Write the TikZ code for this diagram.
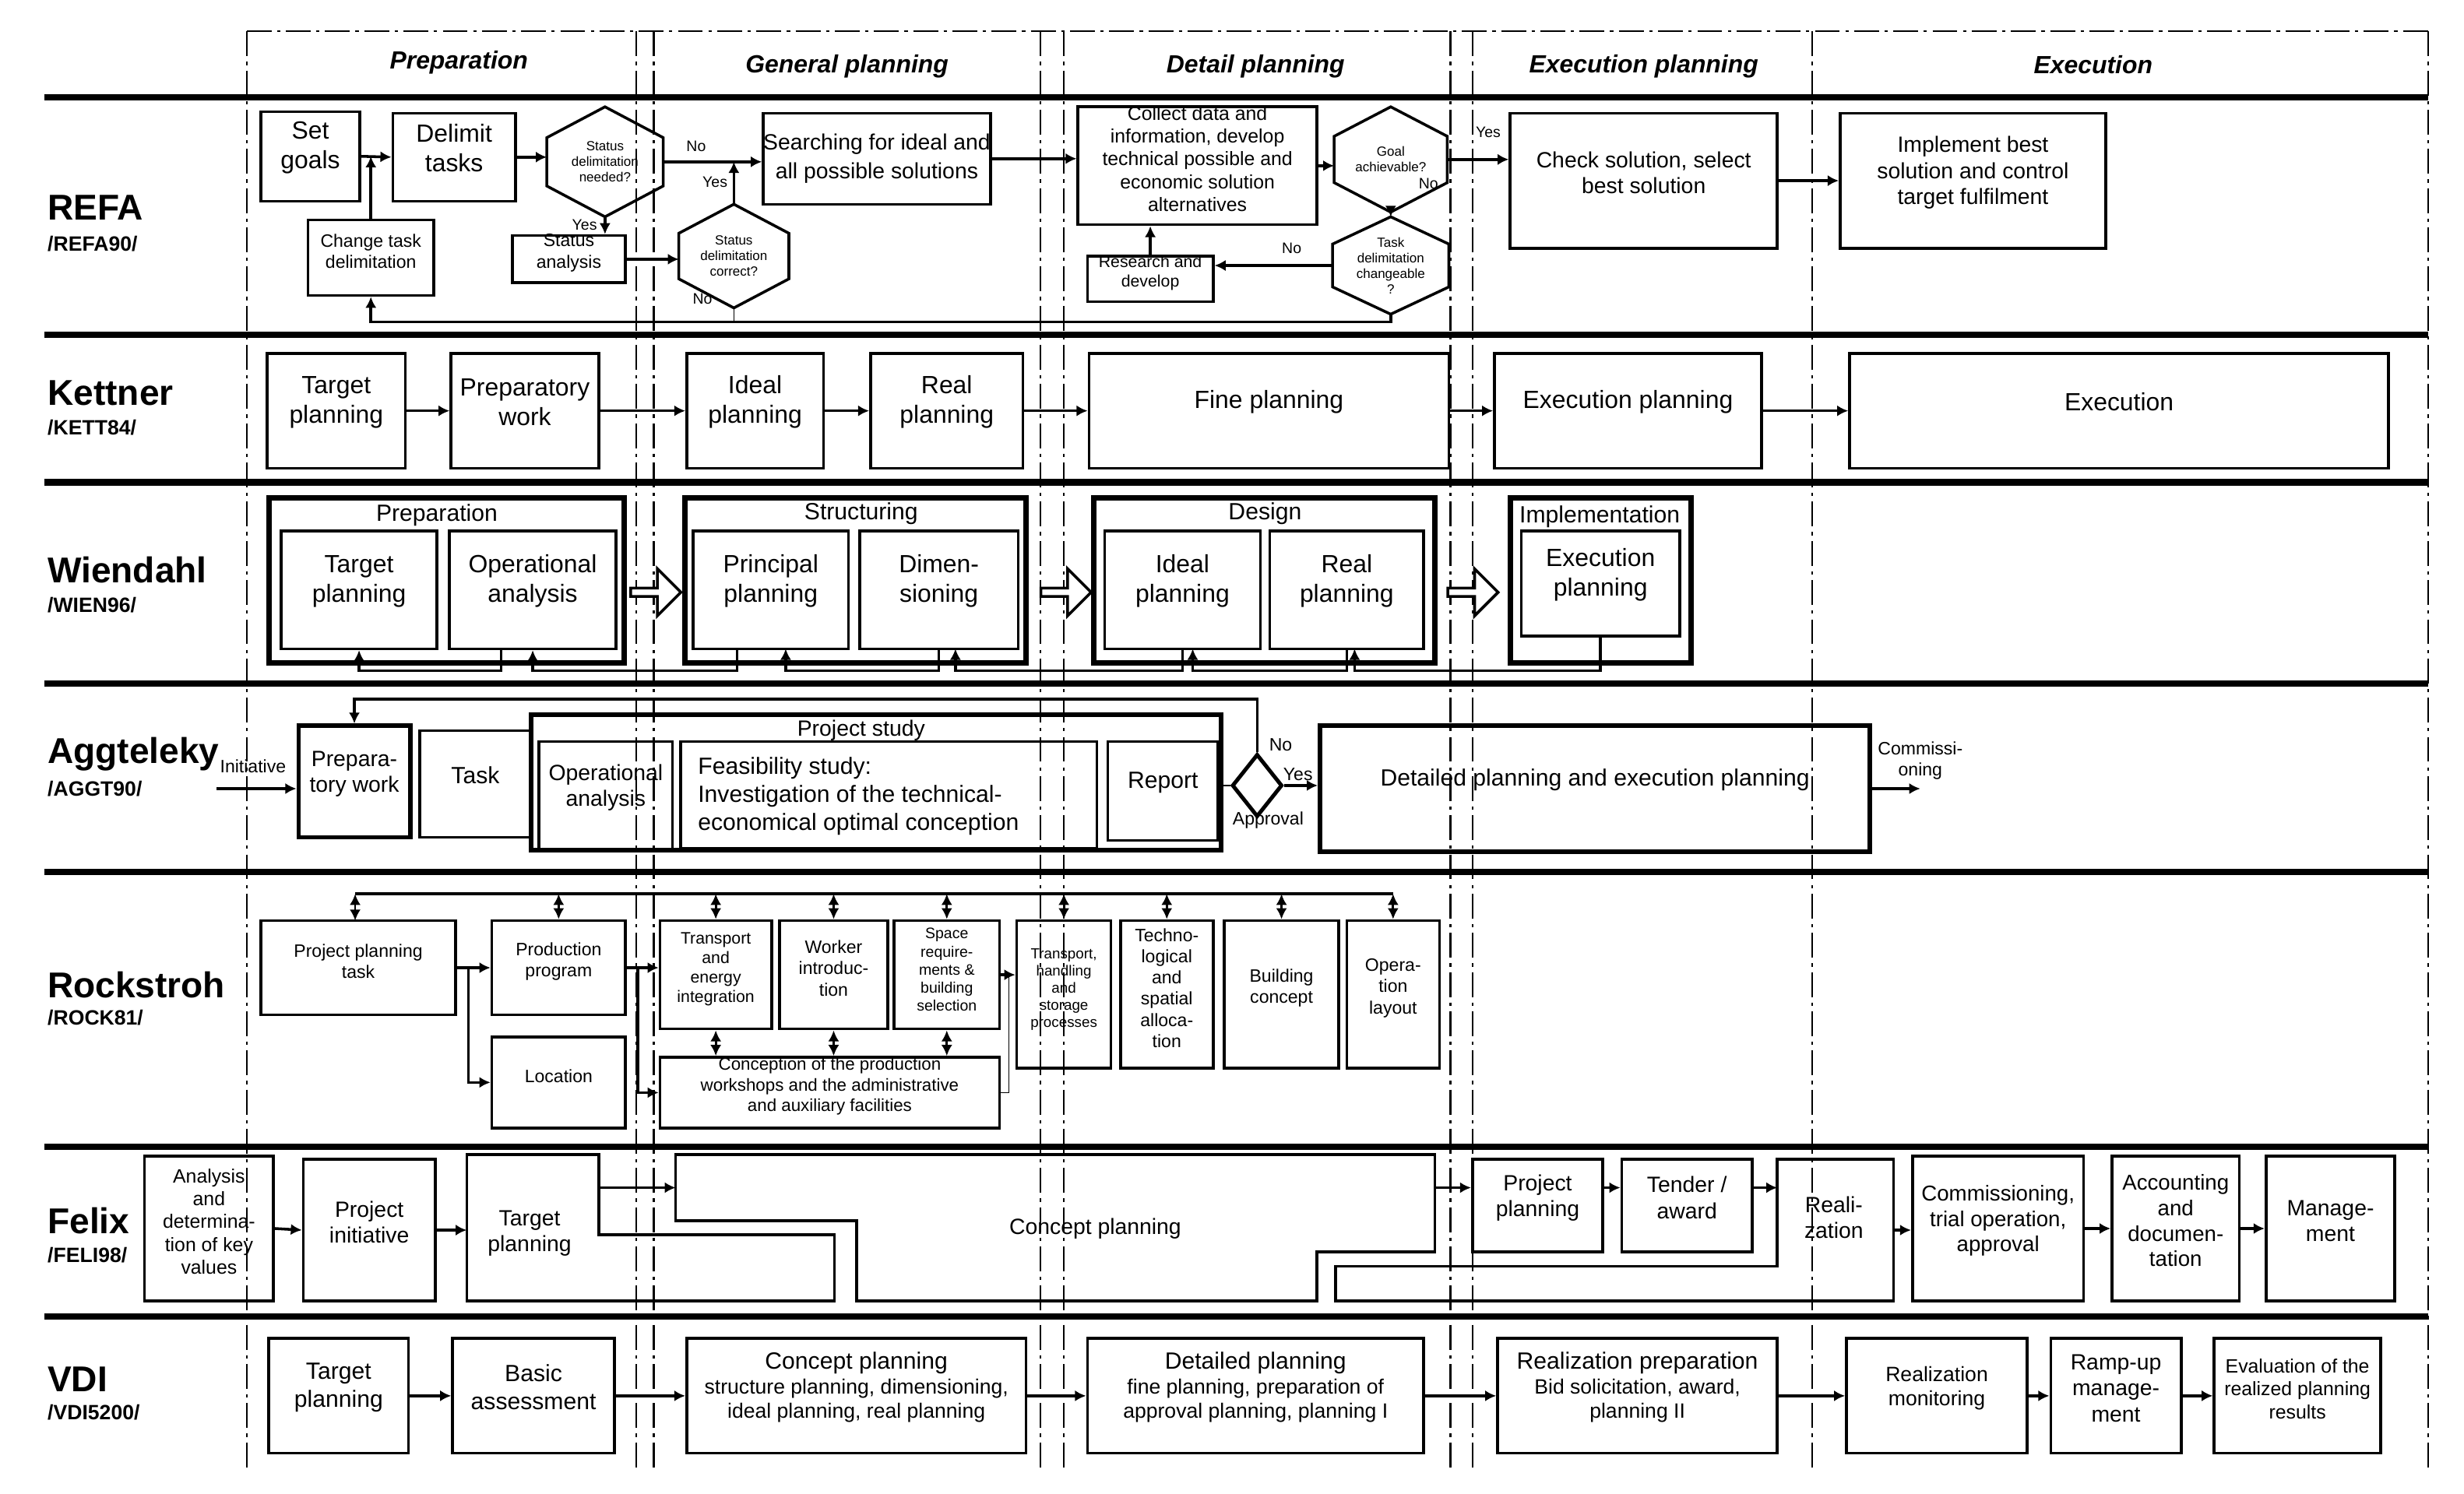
\documentclass[tikz,border=0pt]{standalone}
\usepackage{fontspec}
\setmainfont{Liberation Sans}
\usetikzlibrary{arrows.meta,fit,shapes.arrows,shapes.geometric}
\newcommand\fsz[1]{\fontsize{#1}{\fpeval{#1*1.18}}\selectfont}
\newcommand\myhexa[6]{%
 \draw[line width=1pt] (#2,#3) -- ({#2+#5},{#3+0.28*(#4-#3)}) -- ({#2+#5},{#4-0.28*(#4-#3)}) -- (#2,#4) -- ({#2-#5},{#4-0.28*(#4-#3)}) -- ({#2-#5},{#3+0.28*(#4-#3)}) -- cycle;
 \coordinate (#1-t) at (#2,#3); \coordinate (#1-b) at (#2,#4);
 \coordinate (#1-l) at ({#2-#5},{(#3+#4)/2}); \coordinate (#1-r) at ({#2+#5},{(#3+#4)/2});
 \node[font=\fsz{4.8},align=center,inner sep=0pt] (#1) at (#2,{(#3+#4)/2}) {#6};}
\newcommand\mybox[7][]{\node[bx,#1,fit={(#3,#4)(#5,#6)}] (#2) {#7};}
\begin{document}
\begin{tikzpicture}[x=0.02cm,y=-0.02cm,
 bx/.style={draw,line width=1pt,inner sep=0pt,align=center,font=\fsz{8}},
 ar/.style={-{Latex[length=4pt,width=4pt]},line width=1pt},
 dar/.style={{Latex[length=4pt,width=4pt]}-{Latex[length=4pt,width=4pt]},line width=0.8pt},
 sep/.style={dash pattern=on 9pt off 2pt on 1.2pt off 2pt,line width=0.6pt},
 row/.style={line width=2.4pt},
 lab/.style={font=\fsz{5.5},inner sep=1pt},
 hd/.style={font=\fsz{9}\bfseries\itshape},
 nm/.style={font=\fsz{13}\bfseries,anchor=west,inner sep=0pt},
 sub/.style={font=\fsz{7.5}\bfseries,anchor=west,inner sep=0pt},
 k/.style={font=\fsz{9}},
 r/.style={font=\fsz{6.5}}]
\useasboundingbox (0,0) rectangle (1568,951);
% column separators
\foreach \xx in {157,405,416,662,677,923,937,1153,1545}
  \draw[sep] (\xx,20) -- (\xx,935);
\draw[sep] (157,20) -- (1545,20);
% headers
\node[hd] (h1) at (292,40) {Preparation};
\node[hd] (h2) at (539,42) {General planning};
\node[hd] (h3) at (799,42) {Detail planning};
\node[hd] (h4) at (1046,42) {Execution planning};
\node[hd] (h5) at (1332,41) {Execution};
% row lines
\foreach \yy in {62,213,307,435,555,730,838}
  \draw[row] (28,\yy) -- (1545,\yy);
% row labels
\node[nm] (n1) at (30,132) {REFA}; \node[sub] (s1) at (30,155) {/REFA90/};
\node[nm] (n2) at (30,250) {Kettner}; \node[sub] (s2) at (30,272) {/KETT84/};
\node[nm] (n3) at (30,363) {Wiendahl}; \node[sub] (s3) at (30,385) {/WIEN96/};
\node[nm] (n4) at (30,480) {Aggteleky}; \node[sub] (s4) at (30,502) {/AGGT90/};
\node[nm] (n5) at (30,627) {Rockstroh}; \node[sub] (s5) at (30,648) {/ROCK81/};
\node[nm] (n6) at (30,777) {Felix}; \node[sub] (s6) at (30,799) {/FELI98/};
\node[nm] (n7) at (30,878) {VDI}; \node[sub] (s7) at (30,899) {/VDI5200/};

%% REFA
\mybox[k]{sg}{166}{71}{229}{128}{Set\\goals}
\mybox[k]{dt}{250}{72}{328}{128}{Delimit\\tasks}
\myhexa{hA}{385}{68}{138}{37}{Status\\delimitation\\needed?}
\node[draw,line width=1pt,inner sep=0pt,minimum width=2.68cm,minimum height=1.16cm,font=\fsz{8}] (sr) at (558,101) {\shortstack{Searching for ideal and\\all possible solutions}};
\myhexa{hB}{467}{130}{196}{35}{Status\\delimitation\\correct?}
\mybox[r]{sa}{326}{150}{398}{180}{Status\\analysis}
\mybox[r]{ct}{196}{140}{276}{188}{Change task\\delimitation}
\mybox[font=\fsz{7}]{cd}{686}{68}{838}{143}{Collect data and\\information, develop\\technical possible and\\economic solution\\alternatives}
\myhexa{hC}{885}{68}{135}{36}{Goal\\achievable?}
\myhexa{hD}{885}{138}{200}{37}{Task\\delimitation\\changeable\\?}
\mybox[font=\fsz{6}]{rd}{692}{163}{772}{192}{Research and\\develop}
\mybox{cs}{961}{72}{1131}{158}{Check solution, select\\best solution}
\mybox{im}{1171}{72}{1340}{158}{Implement best\\solution and control\\target fulfilment}
\coordinate (ret) at (500,205);
\draw[ar] (sg.east) -- (dt.west);
\draw[ar] (ct.north) -- (ct.north |- sg.east);
\draw[ar] (dt.east) -- (hA-l |- dt.east);
\draw[ar] (hA-r) -- (hA-r -| sr.west);
\draw[ar] (hB-t) -- (hB-t |- hA-r);
\draw[ar] (hA-b) -- (hA-b |- sa.north);
\draw[ar] (sa.east) -- (sa.east -| hB-l);
\draw (hB-b) -- (hB-b |- ret);
\draw[ar] (hD-b) |- (ret) -| (ct.south);
\draw[ar] (sr.east) -- (sr.east -| cd.west);
\draw[ar] (cd.east) -- (cd.east -| hC-l);
\draw[ar] (hC-r) -- (hC-r -| cs.west);
\draw[ar] (hC-b) -- (hD-t);
\draw[ar] (hD-l) -- (hD-l -| rd.east);
\draw[ar] (rd.north) -- (rd.north |- cd.south);
\draw[ar] (cs.east) -- (cs.east -| im.west);
\node[lab] (l1) at (443,93) {No};
\node[lab] (l2) at (455,116) {Yes};
\node[lab] (l3) at (372,143) {Yes};
\node[lab] (l4) at (447,190) {No};
\node[lab] (l5) at (947,84) {Yes};
\node[lab] (l6) at (909,117) {No};
\node[lab] (l7) at (822,158) {No};

%% Kettner
\mybox[k]{k1}{170}{225}{258}{298}{Target\\planning}
\mybox[k]{k2}{287}{225}{381}{298}{Preparatory\\work}
\mybox[k]{k3}{437}{225}{524}{298}{Ideal\\planning}
\mybox[k]{k4}{554}{225}{651}{298}{Real\\planning}
\mybox[k]{k5}{693}{225}{922}{298}{Fine planning}
\mybox[k]{k6}{951}{225}{1121}{298}{Execution planning}
\mybox[k]{k7}{1177}{225}{1520}{298}{Execution}
\foreach \a/\b in {k1/k2,k2/k3,k3/k4,k4/k5,k5/k6,k6/k7} \draw[ar] (\a.east) -- (\b.west);

%% Wiendahl
\mybox[line width=2pt]{w1}{171}{317}{397}{422}{}
\mybox[line width=2pt]{w2}{436}{317}{653}{422}{}
\mybox[line width=2pt]{w3}{696}{317}{913}{422}{}
\mybox[line width=2pt]{w4}{961}{317}{1076}{422}{}
\node[font=\fsz{8.5}] (w1t) at (278,328) {Preparation};
\node[font=\fsz{8.5}] (w2t) at (548,327) {Structuring};
\node[font=\fsz{8.5}] (w3t) at (805,327) {Design};
\node[font=\fsz{8.5}] (w4t) at (1018,329) {Implementation};
\mybox[k]{wa}{179}{338}{278}{413}{Target\\planning}
\mybox[k]{wb}{286}{338}{392}{413}{Operational\\analysis}
\mybox[k]{wc}{441}{338}{540}{413}{Principal\\planning}
\mybox[k]{wd}{547}{338}{648}{413}{Dimen-\\sioning}
\mybox[k]{we}{703}{338}{802}{413}{Ideal\\planning}
\mybox[k]{wf}{808}{338}{906}{413}{Real\\planning}
\mybox[k]{wg}{968}{338}{1069}{405}{Execution\\planning}
\foreach \xx/\nn in {416/ba1,677/ba2,936/ba3}
  \node[single arrow,draw,line width=1pt,fill=white,minimum height=0.64cm,minimum width=0.6cm,single arrow head extend=0.08cm,inner sep=0pt] (\nn) at (\xx,377) {};
\coordinate (fb) at (0,427);
\coordinate (wbs) at (319,413);
\coordinate (wcs) at (469,413);
\draw[ar] (wbs) |- (fb -| wa.south) -- (wa.south);
\draw[ar] (wcs) |- (fb -| wb.south) -- (wb.south);
\draw[ar] (wd.south) |- (fb -| 500,0) -- (500,413);
\draw[ar] (we.south) |- (fb -| 608,0) -- (608,413);
\draw[ar] (wf.south) |- (fb -| 759,0) -- (759,413);
\draw[ar] (wg.south) |- (fb -| 862,0) -- (862,413);

%% Aggteleky
\mybox[line width=1.6pt]{ps}{338}{455}{777}{541}{}
\node[font=\fsz{8}] (pst) at (548,465) {Project study};
\mybox[line width=1.6pt,font=\fsz{8}]{ap}{190}{462}{261}{533}{Prepara-\\tory work}
\mybox[font=\fsz{8.5}]{at}{267}{465}{338}{533}{Task\\[12pt]}
\mybox[font=\fsz{8}]{ao}{343}{472}{428}{541}{Operational\\analysis}
\mybox{af}{433}{472}{698}{540}{}
\node[font=\fsz{8.5},align=left,anchor=north west] (aft) at (438,476) {Feasibility study:\\Investigation of the technical-\\economical optimal conception};
\mybox[font=\fsz{8.5}]{arp}{705}{472}{775}{535}{Report\\[20pt]}
\node[draw,diamond,line width=1.4pt,minimum width=0.64cm,minimum height=0.8cm,inner sep=0pt] (dia) at (800,500) {};
\mybox[line width=1.6pt,font=\fsz{8.5}]{ad}{840}{462}{1190}{542}{Detailed planning and execution planning\\[40pt]}
\node[lab,font=\fsz{6.5}] (ai) at (161,488) {Initiative};
\coordinate (ain) at (138,502);
\draw[ar] (ain) -- (ain -| ap.west);
\draw (arp.east |- dia.west) -- (dia.west);
\draw[ar] (dia.east) -- (dia.east -| ad.west);
\coordinate (ag) at (500,445);
\draw[ar] (dia.north) |- (ag) -| (ap.north);
\node[lab,font=\fsz{6.5}] (ano) at (815,474) {No};
\node[lab,font=\fsz{6.5}] (ays) at (826,493) {Yes};
\node[lab,font=\fsz{6.5}] (aap) at (807,522) {Approval};
\coordinate (aco) at (1222,502);
\draw[ar] (ad.east |- aco) -- (aco);
\node[font=\fsz{6.5},align=center] (acl) at (1222,484) {Commissi-\\oning};

%% Rockstroh
\mybox[r]{r1}{166}{586}{290}{646}{Project planning\\task\\[16pt]}
\mybox[r]{r2}{313}{586}{398}{646}{Production\\program\\[12pt]}
\mybox[r]{r3}{313}{660}{398}{718}{Location}
\mybox[font=\fsz{6}]{r4}{420}{586}{491}{655}{Transport\\and\\energy\\integration}
\mybox[font=\fsz{6.5}]{r5}{496}{586}{565}{655}{Worker\\introduc-\\tion}
\mybox[font=\fsz{5.5}]{r6}{569}{586}{636}{655}{Space\\require-\\ments \&\\building\\selection}
\mybox[font=\fsz{6.3}]{r7}{420}{673}{636}{718}{Conception of the production\\workshops and the administrative\\and auxiliary facilities}
\mybox[font=\fsz{5.3}]{r8}{647}{586}{707}{680}{Transport,\\handling\\and\\storage\\processes\\[8pt]}
\mybox[font=\fsz{6.5}]{r9}{713}{586}{772}{680}{Techno-\\logical\\and\\spatial\\alloca-\\tion}
\mybox[r]{r10}{779}{586}{852}{680}{Building\\concept\\[12pt]}
\mybox[r]{r11}{857}{586}{916}{680}{Opera-\\tion\\layout\\[20pt]}
\coordinate (bus) at (0,569);
\draw[line width=1pt] (bus -| 226,0) -- (r11.north |- bus);
\draw[dar] (bus -| 226,0) -- (226,586);
\foreach \n in {r2,r4,r5,r6,r8,r9,r10,r11} \draw[dar] (\n.north |- bus) -- (\n.north);
\foreach \n in {r4,r5,r6} \draw[dar] (\n.south) -- (\n.south |- r7.north);
\draw[ar] (r1.east) -- (r2.west);
\draw[ar] (298,616) |- (r3.west);
\draw[ar] (r2.east) -- (r2.east -| r4.west);
\draw[ar] (406,616) |- (r7.west);
\draw[ar] (r6.east) -- (r6.east -| r8.west);
\draw (r7.east) -- ++(5,0) |- (r6.east);

%% Felix
\mybox[font=\fsz{7}]{f1}{92}{736}{174}{828}{Analysis\\and\\determina-\\tion of key\\values}
\mybox[font=\fsz{8}]{f2}{193}{738}{277}{828}{Project\\initiative}
\draw[line width=1pt] (297,735) -- (381,735) -- (381,786) -- (531,786) -- (531,828) -- (297,828) -- cycle;
\node[font=\fsz{8},align=center] (f3) at (337,785) {Target\\planning};
\draw[line width=1pt] (430,735) -- (913,735) -- (913,797) -- (838,797) -- (838,828) -- (545,828) -- (545,777) -- (430,777) -- cycle;
\node[font=\fsz{8}] (f4) at (697,782) {Concept planning};
\draw[line width=1pt] (850,806) -- (1131,806) -- (1131,738) -- (1205,738) -- (1205,828) -- (850,828) -- cycle;
\node[font=\fsz{8},align=center] (f7) at (1167,775) {Reali-\\zation};
\mybox[font=\fsz{8}]{f5}{937}{738}{1020}{797}{Project\\planning}
\mybox[font=\fsz{8}]{f6}{1032}{738}{1115}{797}{Tender /\\award}
\mybox[font=\fsz{7.8}]{f8}{1217}{736}{1326}{828}{Commissioning,\\trial operation,\\approval}
\mybox[font=\fsz{7.8}]{f9}{1344}{736}{1425}{828}{Accounting\\and\\documen-\\tation}
\mybox[font=\fsz{8}]{f10}{1442}{736}{1524}{828}{Manage-\\ment}
\coordinate (tpr) at (381,756); \coordinate (cpl) at (430,756);
\coordinate (cpr) at (913,756); \coordinate (rzl) at (1131,756);
\coordinate (rzr) at (1205,783);
\draw[ar] (f1.east) -- (f2.west);
\draw[ar] (f2.east) -- (f2.east -| 297,0);
\draw[ar] (tpr) -- (cpl);
\draw[ar] (cpr) -- (cpr -| f5.west);
\draw[ar] (f5.east |- cpr) -- (cpr -| f6.west);
\draw[ar] (f6.east |- cpr) -- (rzl);
\draw[ar] (rzr) -- (rzr -| f8.west);
\draw[ar] (f8.east) -- (f9.west);
\draw[ar] (f9.east) -- (f10.west);

%% VDI
\mybox[font=\fsz{8.5}]{v1}{171}{852}{260}{925}{Target\\planning}
\mybox[font=\fsz{8.5}]{v2}{288}{852}{391}{925}{Basic\\assessment}
\mybox[font=\fsz{7.5}]{v3}{437}{852}{653}{925}{{\fsz{8.5}Concept planning}\\structure planning, dimensioning,\\ideal planning, real planning}
\mybox[font=\fsz{7.5}]{v4}{692}{852}{906}{925}{{\fsz{8.5}Detailed planning}\\fine planning, preparation of\\approval planning, planning I}
\mybox[font=\fsz{7.5}]{v5}{953}{852}{1131}{925}{{\fsz{8.5}Realization preparation}\\Bid solicitation, award,\\planning II}
\mybox[font=\fsz{7.5}]{v6}{1175}{852}{1290}{925}{Realization\\monitoring}
\mybox[font=\fsz{8}]{v7}{1305}{852}{1388}{925}{Ramp-up\\manage-\\ment}
\mybox[font=\fsz{7}]{v8}{1409}{852}{1515}{925}{Evaluation of the\\realized planning\\results}
\foreach \a/\b in {v1/v2,v2/v3,v3/v4,v4/v5,v5/v6,v6/v7,v7/v8} \draw[ar] (\a.east) -- (\b.west);
\end{tikzpicture}
\end{document}
